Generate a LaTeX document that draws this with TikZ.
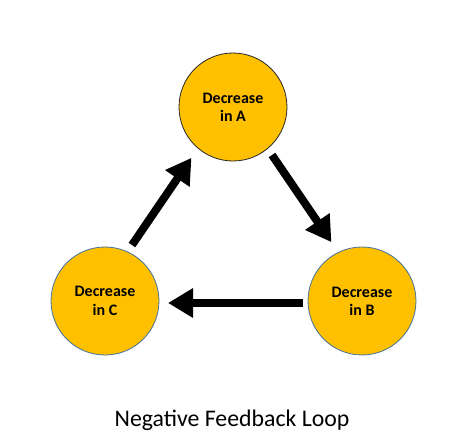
\documentclass[tikz,border=0pt]{standalone}
\usepackage{fontspec}
\setmainfont{Carlito}
\usetikzlibrary{arrows.meta}
\definecolor{gold}{HTML}{FFC000}
\definecolor{rimblue}{HTML}{41719C}
\begin{document}
\begin{tikzpicture}[x=1pt,y=-1pt,
  bubble/.style={circle,fill=gold,draw=rimblue,line width=0.8pt,minimum size=108pt,inner sep=0pt,
    font=\fontsize{16}{18.3}\selectfont\bfseries,align=center,text=black},
  fat/.style={line width=8pt,-{Triangle[length=25pt,width=28pt]},shorten >=1pt}]
\useasboundingbox (0,0) rectangle (467,447);
\node[bubble,draw=black!85] (A) at (233,107) {Decrease\\in A};
\node[bubble] (B) at (362,301) {Decrease\\in B};
\node[bubble] (C) at (105,301) {Decrease\\in C};
\coordinate (ab1) at (272,155); \coordinate (ab2) at (332,243);
\coordinate (bc1) at (303,303); \coordinate (bc2) at (167,303);
\coordinate (ca1) at (132,245); \coordinate (ca2) at (192,157);
\draw[fat] (ab1) -- (ab2);
\draw[fat] (bc1) -- (bc2);
\draw[fat] (ca1) -- (ca2);
\node[font=\fontsize{23.8}{28}\selectfont,anchor=base] (T) at (232,426) {Negative Feedback Loop};
\end{tikzpicture}
\end{document}
